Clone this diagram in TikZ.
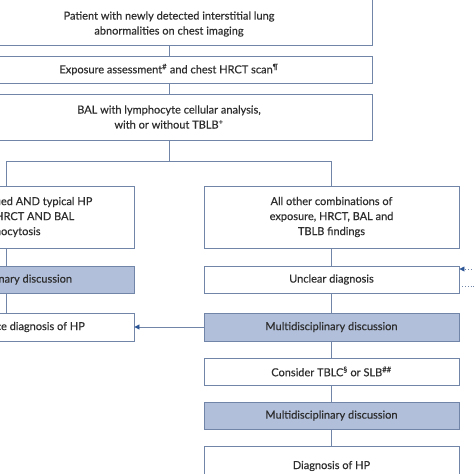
\documentclass[tikz,border=0pt]{standalone}
\usepackage{fontspec}
\setmainfont{Lato}[FakeBold=0.3,AutoFakeBold=0.3]
\usetikzlibrary{arrows.meta}
\definecolor{edge}{HTML}{7185A8}
\definecolor{boxfill}{HTML}{B1BFDA}
\definecolor{txt}{HTML}{2E2E2E}
\definecolor{tip}{HTML}{2C5595}
\begin{document}
\begin{tikzpicture}[x=1pt,y=-1pt,
  box/.style={draw=edge, line width=0.9pt, fill=white, text=txt, align=center,
    inner sep=0pt, font=\fontsize{11}{15}\selectfont\bfseries},
  shaded/.style={box, fill=boxfill},
  label/.style={text=txt, align=center, inner sep=0pt, font=\fontsize{11}{15}\selectfont\bfseries},
  link/.style={draw=edge, line width=0.9pt},
  dotlink/.style={draw=edge, line width=0.8pt, dotted}]
\useasboundingbox (0,0) rectangle (474,474);
\clip (0,0) rectangle (474,474);
\fill[white] (0,0) rectangle (474,474);
% top column
\node[box, minimum width=406pt, minimum height=50pt, anchor=south] (top) at (169,46) {};
\node[label] (toptext) at (169,24) {Patient with newly detected interstitial lung\\abnormalities on chest imaging};
\node[box, minimum width=406pt, minimum height=27pt] (expo) at (169,69.5) {Exposure assessment\textsuperscript{\#} and chest HRCT scan\textsuperscript{¶}};
\node[box, minimum width=406pt, minimum height=46pt] (bal) at (169,117) {BAL with lymphocyte cellular analysis,\\with or without TBLB\textsuperscript{+}};
% left column
\node[box, minimum width=256pt, minimum height=62pt] (l1) at (6,217) {Exposure identified AND typical HP\\features on HRCT AND BAL\\lymphocytosis};
\node[shaded, minimum width=256pt, minimum height=27pt] (l2) at (6,279.5) {Multidisciplinary discussion};
\node[box, minimum width=256pt, minimum height=28pt] (l3) at (6,327) {High-confidence diagnosis of HP};
% right column
\node[box, minimum width=255pt, minimum height=62pt] (r1) at (331.5,217) {All other combinations of\\exposure, HRCT, BAL and\\TBLB findings};
\node[box, minimum width=255pt, minimum height=27pt] (r2) at (331.5,279.5) {Unclear diagnosis};
\node[shaded, minimum width=255pt, minimum height=28pt] (r3) at (331.5,327) {Multidisciplinary discussion};
\node[box, minimum width=255pt, minimum height=27pt] (r4) at (331.5,371.5) {Consider TBLC\textsuperscript{§} or SLB\textsuperscript{\#\#}};
\node[shaded, minimum width=255pt, minimum height=27pt] (r5) at (331.5,415.5) {Multidisciplinary discussion};
\node[box, minimum width=255pt, minimum height=40pt] (r6) at (331.5,466) {Diagnosis of HP};
\coordinate (j) at (169,161);
\coordinate (loopin) at (480,269);
\coordinate (loopout) at (480,286);
% connectors
\draw[link] (top) -- (expo);
\draw[link] (expo) -- (bal);
\draw[link] (bal) -- (j);
\draw[link] (j) -| (l1);
\draw[link] (j) -| (r1);
\draw[link] (l1) -- (l2);
\draw[link] (l2) -- (l3);
\draw[link] (r1) -- (r2);
\draw[link] (r2) -- (r3);
\draw[link] (r3) -- (r4);
\draw[link] (r4) -- (r5);
\draw[link] (r5) -- (r6);
\draw[link, -{Triangle[length=5pt,width=5pt,fill=tip,color=tip]}] (r3) -- (l3);
\draw[dotlink, -{Triangle[length=5pt,width=5pt,fill=tip,color=tip]}] (loopin) -- (r2.east |- loopin);
\draw[dotlink] (r2.east |- loopout) -- (loopout);
\end{tikzpicture}
\end{document}
